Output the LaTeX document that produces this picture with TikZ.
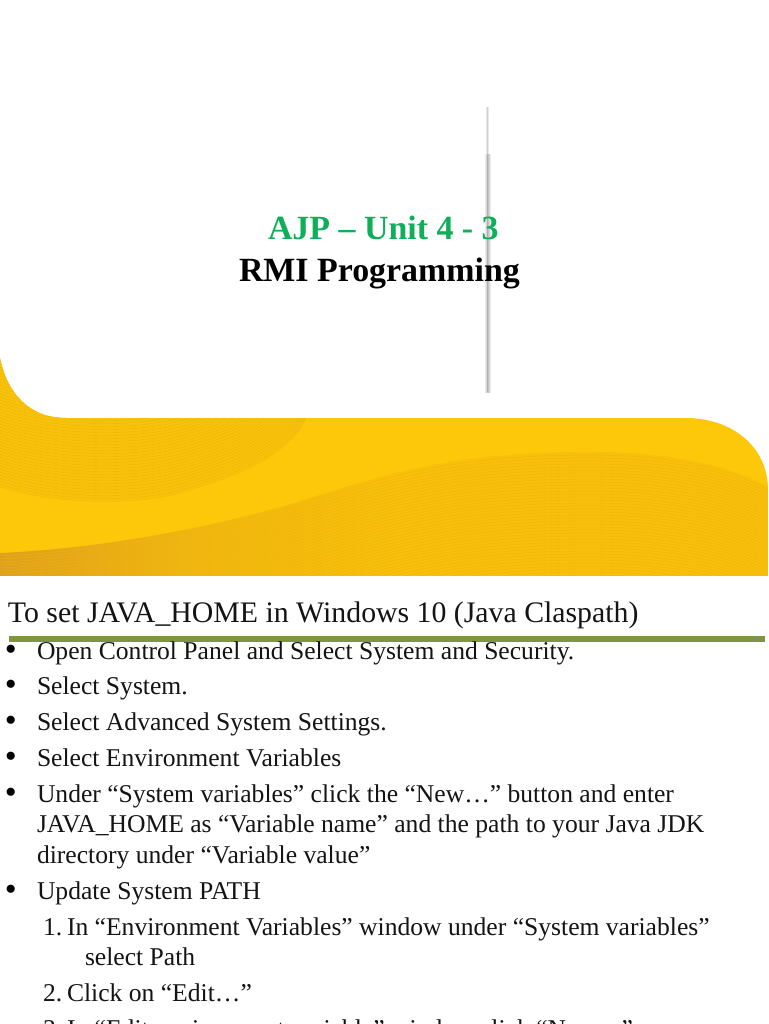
\documentclass[tikz,border=0pt]{standalone}
\usepackage{fontspec}
\setmainfont{Liberation Serif}
\definecolor{ywl}{HTML}{FDC80A}
\definecolor{ywd}{HTML}{F8C00A}
\definecolor{ywo}{HTML}{E0A01E}
\definecolor{lin}{HTML}{ECB50B}
\definecolor{rulegreen}{HTML}{7F953F}
\definecolor{titlegreen}{HTML}{0FAF5A}
\tikzset{
  bodytext/.style={anchor=base west,inner sep=0pt,outer sep=0pt,font=\fontsize{25.6}{30}\selectfont,text=black!92},
  bulletmark/.style={anchor=base west,inner sep=0pt,outer sep=0pt,font=\fontsize{34}{38}\selectfont},
  headtext/.style={anchor=base west,inner sep=0pt,outer sep=0pt,font=\fontsize{29.8}{34}\selectfont,text=black!92},
  cover/.style={anchor=base west,inner sep=0pt,outer sep=0pt,font=\bfseries\fontsize{33.9}{40}\selectfont},
  contour/.style={lin,line width=0.35pt}
}
\begin{document}
\begin{tikzpicture}[x=1pt,y=-1pt]
\useasboundingbox (0,0) rectangle (768,1024);
\clip (0,0) rectangle (768,1024);
\fill[white] (0,0) rectangle (768,1024);
% yellow band
\begin{scope}
\clip (0,358) .. controls (7,392) and (28,418) .. (66,418) -- (686,418)
      .. controls (730,418) and (768,445) .. (768,490) -- (768,576) -- (0,576) -- cycle;
\fill[ywl] (0,340) rectangle (768,576);
% concentric patch, upper left
\begin{scope}
\clip (-10,340) -- (306,340) -- (306,418) .. controls (295,450) and (240,478) .. (172,495)
      .. controls (130,505) and (50,505) .. (-10,484) -- cycle;
\fill[ywd!70!ywl] (-10,340) rectangle (310,510);
\foreach \r in {0,3,...,165}
  \draw[contour] (-10,{487-\r}) .. controls (50,{508-\r}) and (130,{508-\r}) .. (172,{498-\r})
     .. controls (240,{481-\r}) and (295,{453-\r}) .. (306,{421-\r});
\end{scope}
% wave
\begin{scope}
\clip (0,553) .. controls (110,548) and (220,525) .. (294,503)
      .. controls (370,480) and (440,452) .. (588,452)
      .. controls (670,452) and (730,465) .. (768,487) -- (768,576) -- (0,576) -- cycle;
\shade[left color=ywo,right color=ywd,middle color=ywd!72!ywo] (0,440) rectangle (400,576);
\fill[ywd] (400,440) rectangle (768,576);
\foreach \r in {0,3,...,126}
  \draw[contour] (0,{556+\r}) .. controls (110,{551+\r}) and (220,{528+\r}) .. (294,{506+\r})
      .. controls (370,{483+\r}) and (440,{455+\r}) .. (588,{455+\r})
      .. controls (670,{455+\r}) and (730,{468+\r}) .. (768,{490+\r});
\end{scope}
\end{scope}
% white lower page
\fill[white] (0,576) rectangle (768,1024);
% vertical gray line
\shade[left color=white,right color=black!18] (485,108) rectangle (487,155);
\shade[left color=black!18,right color=white] (487,108) rectangle (489,155);
\shade[left color=white,right color=black!27] (484,155) rectangle (487.5,392);
\shade[left color=black!27,right color=white] (487.5,155) rectangle (491,392);
% cover titles
\node[cover,text=titlegreen] (cover1) at (268,240) {AJP – Unit 4 - 3};
\node[cover,text=black] (cover2) at (239,281) {RMI Programming};
% slide heading
\node[headtext] (head) at (8,622) {To set JAVA\_HOME in Windows 10 (Java Claspath)};
\fill[rulegreen] (9,636) rectangle (765,642);
% bullets
\node[bulletmark] (b1) at (5,660) {•};
\node[bodytext] (t1) at (37,659) {Open Control Panel and Select System and Security.};
\node[bulletmark] (b2) at (5,695) {•};
\node[bodytext] (t2) at (37,694) {Select System.};
\node[bulletmark] (b3) at (5,731) {•};
\node[bodytext] (t3) at (37,730) {Select Advanced System Settings.};
\node[bulletmark] (b4) at (5,767) {•};
\node[bodytext] (t4) at (37,766) {Select Environment Variables};
\node[bulletmark] (b5) at (5,803) {•};
\node[bodytext] (t5) at (37,802) {Under “System variables” click the “New…” button and enter};
\node[bodytext] (t5b) at (37,832) {JAVA\_HOME as “Variable name” and the path to your Java JDK};
\node[bodytext] (t5c) at (37,863) {directory under “Variable value”};
\node[bulletmark] (b6) at (5,900) {•};
\node[bodytext] (t6) at (37,899) {Update System PATH};
\node[bodytext] (n1) at (43,935) {1.};
\node[bodytext] (n1t) at (67,935) {In “Environment Variables” window under “System variables”};
\node[bodytext] (n1b) at (85,965) {select Path};
\node[bodytext] (n2) at (43,1001) {2.};
\node[bodytext] (n2t) at (67,1001) {Click on “Edit…”};
\node[bodytext] (n3) at (43,1037) {3.};
\node[bodytext] (n3t) at (67,1037) {In “Edit environment variable” window click “New…”};
\end{tikzpicture}
\end{document}
